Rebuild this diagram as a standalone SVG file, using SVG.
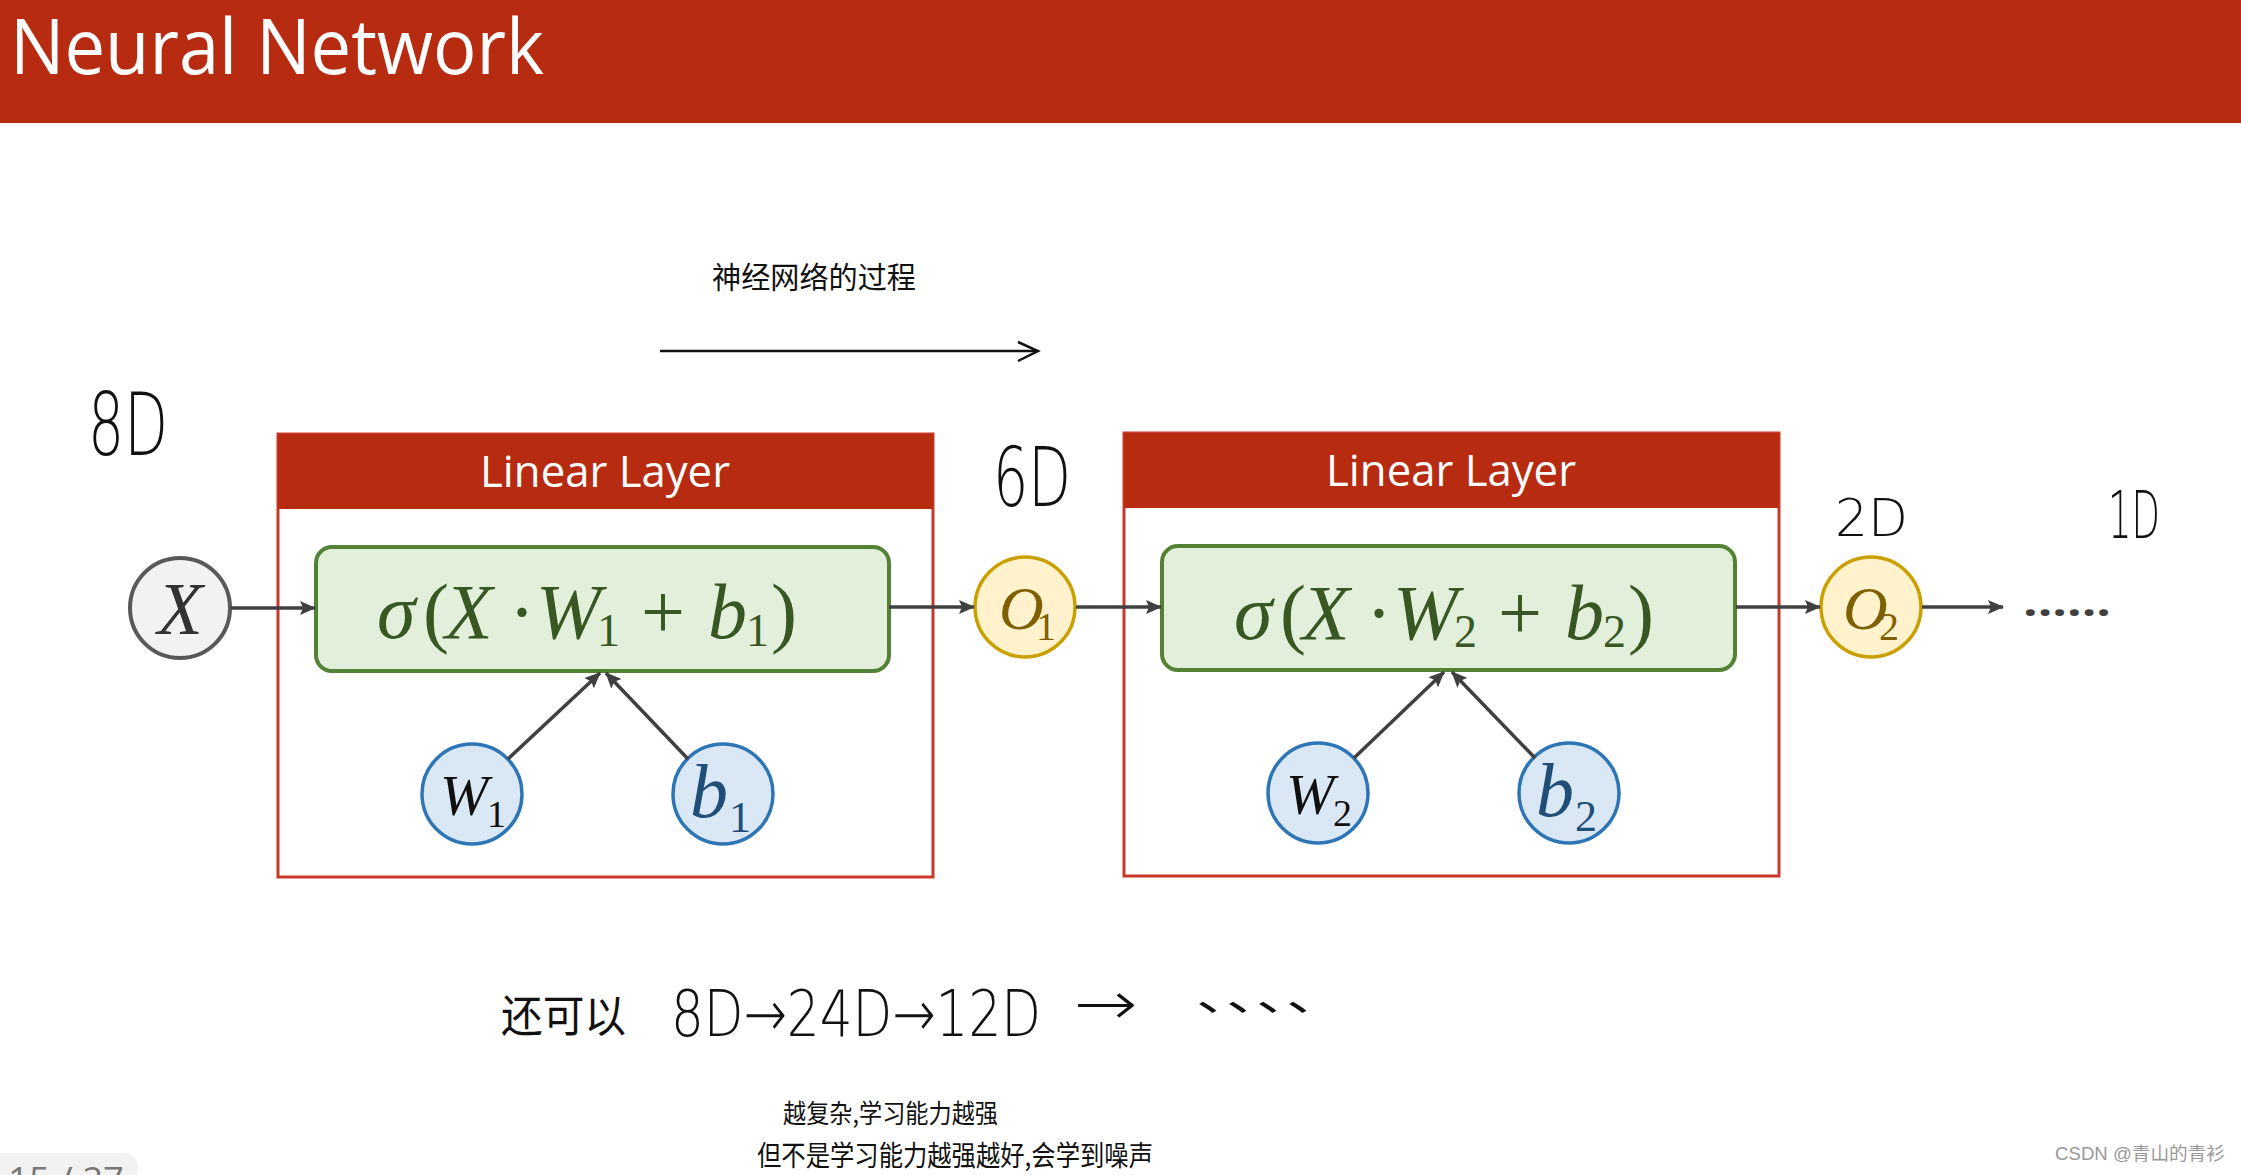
<svg xmlns="http://www.w3.org/2000/svg" width="2241" height="1175" viewBox="0 0 2241 1175">
  <style>
    .ui { font-family: "Open Sans", "Noto Sans", "Liberation Sans", sans-serif; }
    .math { font-family: "Liberation Serif", "DejaVu Serif", serif; font-style: italic; }
    .up { font-style: normal; }
    .hand { font-family: "DejaVu Sans", "Liberation Sans", "Noto Sans CJK SC", sans-serif; font-weight: 200; fill: #111; }
    .cjk { font-family: "Noto Sans CJK SC", "Noto Sans CJK TC", sans-serif; fill: #111; }
    .layer { fill: #ffffff; stroke: #C8382A; stroke-width: 3; }
    .lhead { fill: #B72B11; }
    .func { fill: #E2EFDA; stroke: #548235; stroke-width: 4; }
    .ftext { fill: #385723; }
    .in { fill: #F2F2F2; stroke: #595959; stroke-width: 4; }
    .par { fill: #DAE8F5; stroke: #2E75B6; stroke-width: 3.5; }
    .out { fill: #FFF2CC; stroke: #C9A000; stroke-width: 3.5; }
    .conn { stroke: #404040; stroke-width: 3.5; fill: none; }
  </style>
  <defs>
    <marker id="ah" markerUnits="userSpaceOnUse" markerWidth="16" markerHeight="14" viewBox="0 0 16 14" refX="15" refY="7" orient="auto">
      <path d="M0,0 L16,7 L0,14 L3,7 z" fill="#404040"/>
    </marker>
  </defs>

  <rect x="0" y="0" width="2241" height="1175" fill="#ffffff"/>

  <!-- title bar -->
  <g id="title">
    <rect x="0" y="0" width="2241" height="123" fill="#B72B11"/>
    <text class="ui" x="10" y="74" font-size="76" fill="#ffffff" textLength="534" lengthAdjust="spacingAndGlyphs">Neural Network</text>
  </g>

  <!-- top annotation -->
  <g id="process-note">
    <text class="cjk" x="712" y="288" font-size="30" textLength="204" lengthAdjust="spacingAndGlyphs">神经网络的过程</text>
    <line x1="660" y1="351" x2="1037" y2="351" stroke="#111" stroke-width="2.5"/>
    <polyline points="1018,342 1038,351 1018,361" fill="none" stroke="#111" stroke-width="2.5"/>
  </g>

  <!-- layer 1 -->
  <g id="layer1">
    <rect class="layer" x="278" y="434" width="655" height="443"/>
    <rect class="lhead" x="278" y="434" width="655" height="75"/>
    <text class="ui" x="605" y="487" font-size="44" fill="#ffffff" text-anchor="middle" textLength="250" lengthAdjust="spacingAndGlyphs">Linear Layer</text>
  </g>
  <g id="func1">
    <rect class="func" x="316" y="547" width="573" height="124" rx="16"/>
    <text class="math ftext" y="638" font-size="78">
      <tspan x="377">σ</tspan><tspan class="up" x="423">(</tspan><tspan x="445">X</tspan><tspan class="up" x="509">·</tspan><tspan x="536">W</tspan><tspan class="up" x="597" y="646" font-size="46">1</tspan><tspan class="up" x="641" y="638">+</tspan><tspan x="708">b</tspan><tspan class="up" x="746" y="646" font-size="46">1</tspan><tspan class="up" x="771" y="638">)</tspan>
    </text>
  </g>
  <g id="W1">
    <circle class="par" cx="472" cy="794" r="50"/>
    <text class="math" y="815" font-size="58" fill="#111"><tspan x="440">W</tspan><tspan class="up" x="487" y="827" font-size="38">1</tspan></text>
  </g>
  <g id="b1">
    <circle class="par" cx="723" cy="794" r="50"/>
    <text class="math" y="817" font-size="76" fill="#1F4E79"><tspan x="690">b</tspan><tspan class="up" x="729" y="832" font-size="44">1</tspan></text>
  </g>

  <!-- layer 2 -->
  <g id="layer2">
    <rect class="layer" x="1124" y="433" width="655" height="443"/>
    <rect class="lhead" x="1124" y="433" width="655" height="75"/>
    <text class="ui" x="1451" y="486" font-size="44" fill="#ffffff" text-anchor="middle" textLength="250" lengthAdjust="spacingAndGlyphs">Linear Layer</text>
  </g>
  <g id="func2">
    <rect class="func" x="1162" y="546" width="573" height="124" rx="16"/>
    <text class="math ftext" y="639" font-size="78">
      <tspan x="1234">σ</tspan><tspan class="up" x="1280">(</tspan><tspan x="1302">X</tspan><tspan class="up" x="1366">·</tspan><tspan x="1393">W</tspan><tspan class="up" x="1454" y="647" font-size="46">2</tspan><tspan class="up" x="1498" y="639">+</tspan><tspan x="1565">b</tspan><tspan class="up" x="1603" y="647" font-size="46">2</tspan><tspan class="up" x="1628" y="639">)</tspan>
    </text>
  </g>
  <g id="W2">
    <circle class="par" cx="1318" cy="793" r="50"/>
    <text class="math" y="814" font-size="58" fill="#111"><tspan x="1286">W</tspan><tspan class="up" x="1333" y="826" font-size="38">2</tspan></text>
  </g>
  <g id="b2">
    <circle class="par" cx="1569" cy="793" r="50"/>
    <text class="math" y="816" font-size="76" fill="#1F4E79"><tspan x="1536">b</tspan><tspan class="up" x="1575" y="831" font-size="44">2</tspan></text>
  </g>

  <!-- input / outputs -->
  <g id="X">
    <circle class="in" cx="180" cy="608" r="50"/>
    <text class="math" x="180" y="634" font-size="74" fill="#333333" text-anchor="middle">X</text>
  </g>
  <g id="O1">
    <circle class="out" cx="1025" cy="607" r="50"/>
    <text class="math" y="629" font-size="62" fill="#7F6000"><tspan x="999">O</tspan><tspan class="up" x="1036" y="640" font-size="40">1</tspan></text>
  </g>
  <g id="O2">
    <circle class="out" cx="1871" cy="607" r="50"/>
    <text class="math" y="629" font-size="62" fill="#7F6000"><tspan x="1843">O</tspan><tspan class="up" x="1879" y="640" font-size="40">2</tspan></text>
  </g>
  <g id="more">
    <text class="ui" x="2023" y="616" font-size="42" font-weight="bold" fill="#404040" textLength="88" lengthAdjust="spacingAndGlyphs">......</text>
  </g>

  <!-- connectors -->
  <g id="connectors">
    <line class="conn" x1="231" y1="608" x2="315" y2="608" marker-end="url(#ah)"/>
    <line class="conn" x1="889" y1="607" x2="974" y2="607" marker-end="url(#ah)"/>
    <line class="conn" x1="1076" y1="607" x2="1161" y2="607" marker-end="url(#ah)"/>
    <line class="conn" x1="1736" y1="607" x2="1820" y2="607" marker-end="url(#ah)"/>
    <line class="conn" x1="1922" y1="607" x2="2003" y2="607" marker-end="url(#ah)"/>
    <line class="conn" x1="508" y1="759" x2="600" y2="673" marker-end="url(#ah)"/>
    <line class="conn" x1="688" y1="759" x2="606" y2="673" marker-end="url(#ah)"/>
    <line class="conn" x1="1354" y1="758" x2="1444" y2="672" marker-end="url(#ah)"/>
    <line class="conn" x1="1535" y1="758" x2="1452" y2="672" marker-end="url(#ah)"/>
  </g>

  <!-- handwritten dimension notes -->
  <g id="dims">
    <text class="hand" x="88" y="455" font-size="88" textLength="80" lengthAdjust="spacingAndGlyphs">8D</text>
    <text class="hand" x="993" y="506" font-size="82" textLength="78" lengthAdjust="spacingAndGlyphs">6D</text>
    <text class="hand" x="1835" y="536" font-size="52" textLength="73" lengthAdjust="spacingAndGlyphs">2D</text>
    <text class="hand" x="2108" y="538" font-size="66" textLength="52" lengthAdjust="spacingAndGlyphs">1D</text>
  </g>

  <!-- bottom notes -->
  <g id="notes">
    <text class="cjk" x="501" y="1032" font-size="44" textLength="125" lengthAdjust="spacingAndGlyphs">还可以</text>
    <text class="hand" x="671" y="1036" font-size="64" textLength="370" lengthAdjust="spacingAndGlyphs">8D→24D→12D</text>
    <text class="hand" x="1074" y="1024" font-size="60" textLength="64" lengthAdjust="spacingAndGlyphs">→</text>
    <text class="cjk" x="1196" y="1010" font-size="40" textLength="150" lengthAdjust="spacingAndGlyphs">、、、、</text>
    <text class="cjk" x="783" y="1123" font-size="26" textLength="215" lengthAdjust="spacingAndGlyphs">越复杂,学习能力越强</text>
    <text class="cjk" x="757" y="1166" font-size="28" textLength="396" lengthAdjust="spacingAndGlyphs">但不是学习能力越强越好,会学到噪声</text>
  </g>

  <!-- page indicator & watermark -->
  <g id="page">
    <rect x="-12" y="1153" width="150" height="40" rx="14" fill="#F2F2F2"/>
    <text class="ui" x="8" y="1192" font-size="34" fill="#777777" textLength="116" lengthAdjust="spacingAndGlyphs">15 / 27</text>
  </g>
  <g id="watermark">
    <text x="2055" y="1160" font-family="Liberation Sans, Noto Sans CJK SC, sans-serif" font-size="18" fill="#999999" textLength="170" lengthAdjust="spacingAndGlyphs">CSDN @青山的青衫</text>
  </g>
</svg>
